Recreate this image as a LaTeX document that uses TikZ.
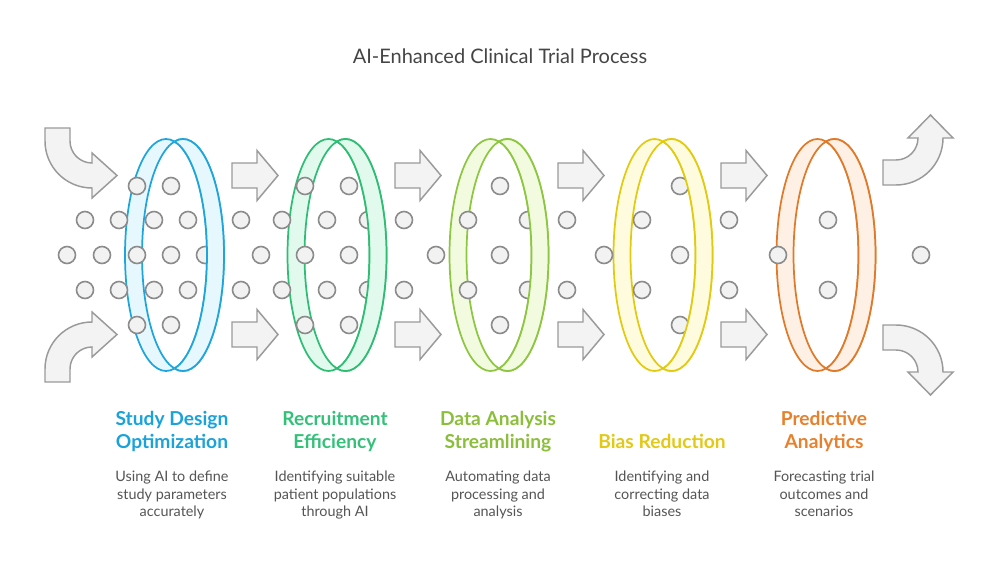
\documentclass[tikz,border=0pt]{standalone}
\usepackage{fontspec}
\setmainfont{Lato}
\definecolor{cA}{HTML}{1EA6DC}\definecolor{fA}{HTML}{E6F7FD}
\definecolor{cB}{HTML}{2DBE73}\definecolor{fB}{HTML}{E2FAEE}
\definecolor{cC}{HTML}{8DC63F}\definecolor{fC}{HTML}{F2FBE0}
\definecolor{cD}{HTML}{E2CB0E}\definecolor{fD}{HTML}{FEFBDF}
\definecolor{cE}{HTML}{E07A2A}\definecolor{fE}{HTML}{FEF0E4}
\definecolor{hA}{HTML}{1AA3DB}\definecolor{hB}{HTML}{33C17A}
\definecolor{hC}{HTML}{8BBE3A}\definecolor{hD}{HTML}{E3C915}
\definecolor{hE}{HTML}{E8802C}
\definecolor{dotc}{HTML}{8C8C8C}\definecolor{dotf}{HTML}{F2F2F2}
\definecolor{arrc}{HTML}{9A9A9A}\definecolor{arrf}{HTML}{F3F3F3}
\definecolor{descc}{HTML}{555555}\definecolor{titlec}{HTML}{454545}
\begin{document}
\begin{tikzpicture}[x=0.75pt,y=-0.75pt,
  dot/.style={draw=dotc, fill=dotf, line width=1.2pt},
  arr/.style={draw=arrc, fill=arrf, line width=1.1pt, line join=miter},
  ringline/.style={line width=1.3pt},
  headtxt/.style={font=\bfseries\fontsize{14.4}{17.25}\selectfont, align=center, anchor=base, inner sep=0pt},
  desctxt/.style={font=\fontsize{10.8}{13}\selectfont, text=descc, align=center, anchor=base, inner sep=0pt}]
\useasboundingbox[fill=white] (0,0) rectangle (1000,571);

% title
\node[font=\fontsize{15}{17}\selectfont, text=titlec, anchor=base, inner sep=0pt] (title) at (500,63) {AI-Enhanced Clinical Trial Process};

% straight arrows
\foreach \xo in {232,395,558,721}{
  \foreach \yc in {175.5,334.5}{
    \draw[arr] (\xo,\yc-12.5) -- (\xo+25,\yc-12.5) -- (\xo+25,\yc-25) -- (\xo+46,\yc)
      -- (\xo+25,\yc+25) -- (\xo+25,\yc+12.5) -- (\xo,\yc+12.5) -- cycle;
  }
}
% curved arrows left
\draw[arr] (45,128) -- (45,141) .. controls (45,167) and (66,188) .. (92,188) -- (92,198)
  -- (117,175.5) -- (92,153) -- (92,163) .. controls (79.85,163) and (70,153.15) .. (70,141) -- (70,128) -- cycle;
\draw[arr] (45,382) -- (45,369) .. controls (45,343) and (66,322) .. (92,322) -- (92,312)
  -- (117,334.5) -- (92,357) -- (92,347) .. controls (79.85,347) and (70,356.85) .. (70,369) -- (70,382) -- cycle;
% curved arrows right
\draw[arr] (883,185) -- (896,185) .. controls (922,185) and (943,164) .. (943,138) -- (953,138)
  -- (930.5,115) -- (908,138) -- (918,138) .. controls (918,150.15) and (908.15,160) .. (896,160) -- (883,160) -- cycle;
\draw[arr] (883,325) -- (896,325) .. controls (922,325) and (943,346) .. (943,372) -- (953,372)
  -- (930.5,395) -- (908,372) -- (918,372) .. controls (918,359.85) and (908.15,350) .. (896,350) -- (883,350) -- cycle;

% rings (back)
\foreach \ax/\sc/\fc in {166/cA/fA, 328.5/cB/fB, 490.5/cC/fC, 654.5/cD/fD, 817.5/cE/fE}{
  \fill[\fc, even odd rule] (\ax,255) ellipse [x radius=41, y radius=116]
     (\ax+17,255) ellipse [x radius=41, y radius=116];
  \draw[\sc, ringline] (\ax,255) ellipse [x radius=41, y radius=116]
     (\ax+17,255) ellipse [x radius=41, y radius=116];
}

% dots
\foreach \yy/\xs in {186/{137,171,305,349,500,680},
                     220/{85,119,154,188,241,282,327,368,404,468,528,567,642,729,828},
                     255/{67,102,137,171,205,261,305,349,436,500,604,680,778,921},
                     290/{85,119,154,188,241,282,327,368,404,468,528,567,642,729,828},
                     325/{137,171,305,349,500,680}}{
  \foreach \xx in \xs { \draw[dot] (\xx,\yy) circle [radius=8.5]; }
}

% rings (front crescents)
\foreach \ax/\sc/\fc in {166/cA/fA, 328.5/cB/fB, 490.5/cC/fC, 654.5/cD/fD, 817.5/cE/fE}{
  \begin{scope}
    \clip (\ax+8.5,120) rectangle (\ax+70,390);
    \fill[\fc, even odd rule] (\ax,255) ellipse [x radius=41, y radius=116]
       (\ax+17,255) ellipse [x radius=41, y radius=116];
    \draw[\sc, ringline] (\ax,255) ellipse [x radius=41, y radius=116]
       (\ax+17,255) ellipse [x radius=41, y radius=116];
  \end{scope}
}

% headings (base = last line)
\node[headtxt, text=hA] (h1) at (172,448) {Study Design\\Optimization};
\node[headtxt, text=hB] (h2) at (335,448) {Recruitment\\Efficiency};
\node[headtxt, text=hC] (h3) at (498,448) {Data Analysis\\Streamlining};
\node[headtxt, text=hD] (h4) at (662,448) {Bias Reduction};
\node[headtxt, text=hE] (h5) at (824,448) {Predictive\\Analytics};

% descriptions (base = last line)
\node[desctxt] (d1) at (172,516.5) {Using AI to define\\study parameters\\accurately};
\node[desctxt] (d2) at (335,516.5) {Identifying suitable\\patient populations\\through AI};
\node[desctxt] (d3) at (498,516.5) {Automating data\\processing and\\analysis};
\node[desctxt] (d4) at (662,516.5) {Identifying and\\correcting data\\biases};
\node[desctxt] (d5) at (824,516.5) {Forecasting trial\\outcomes and\\scenarios};
\end{tikzpicture}
\end{document}
